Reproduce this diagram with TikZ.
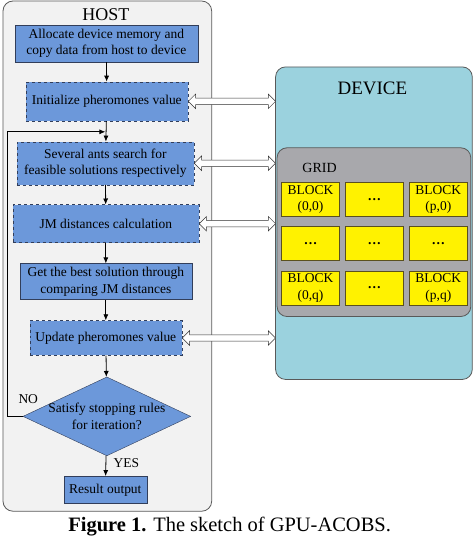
\documentclass[tikz,border=0pt]{standalone}
\usepackage{fontspec}
\setmainfont{Liberation Serif}
\usetikzlibrary{arrows.meta,shapes.geometric,shapes.arrows,positioning,calc}

\definecolor{hostfill}{RGB}{242,242,242}
\definecolor{stepblue}{RGB}{108,152,218}
\definecolor{stepline}{RGB}{50,62,90}
\definecolor{devfill}{RGB}{155,210,222}
\definecolor{gridfill}{RGB}{168,168,172}
\definecolor{blockline}{RGB}{90,80,30}

\begin{document}
\begin{tikzpicture}[
            x=1pt, y=-1pt,
            txt/.style={font=\fontsize{13.5}{16.5}\selectfont},
            stepbox/.style={txt, draw=stepline, fill=stepblue, align=center, inner sep=0pt},
            gpustep/.style={stepbox, dashed},
            decision/.style={diamond, draw=stepline, fill=stepblue, inner sep=0pt, minimum width=168, minimum height=79},
            panel/.style={draw=gray!70!black, rounded corners=10pt, line width=0.8pt, inner sep=0pt},
            blockbox/.style={txt, draw=blockline, fill=yellow, align=center, inner sep=0pt, minimum width=58, minimum height=34, line width=0.7pt},
            flow/.style={-{Latex[length=6pt,width=5pt]}, thick},
            transfer/.style={double arrow, draw=black!80, fill=white, line width=0.5pt, inner xsep=0pt, inner ysep=3pt, double arrow head extend=4pt, anchor=west},
        ]
            % host side
            \node[panel, fill=hostfill, minimum width=209, minimum height=511] (host) at (107.5,256.5) {};
            \node[font=\fontsize{18}{20}\selectfont] at (106,15) {HOST};

            \node[stepbox, minimum width=183, minimum height=37] (alloc) at (106.5,43.5) {Allocate device memory and\\copy data from host to device};
            \node[gpustep, minimum width=162, minimum height=39] (init) at (107,101.5) {Initialize pheromones value};
            \node[gpustep, minimum width=177, minimum height=43] (search) at (105.5,163.5) {Several ants search for\\feasible solutions respectively};
            \node[gpustep, minimum width=186, minimum height=38] (jm) at (106,224) {JM distances calculation};
            \node[stepbox, minimum width=172, minimum height=36] (best) at (106,282) {Get the best solution through\\comparing JM distances};
            \node[gpustep, minimum width=152, minimum height=35] (update) at (106,338.5) {Update pheromones value};
            \node[decision] (stop) at (107,417) {};
            \node[txt, align=center] at (stop) {Satisfy stopping rules\\for iteration?};
            \node[stepbox, minimum width=83, minimum height=27] (result) at (105.5,490.5) {Result output};

            \draw[flow] (alloc) -- (init);
            \draw[flow] (init) -- (search);
            \draw[flow] (search) -- (jm);
            \draw[flow] (jm) -- (best);
            \draw[flow] (best) -- (update);
            \draw[flow] (update) -- (stop);
            \draw[flow] (stop) -- node[txt, right=4pt, pos=0.35] {YES} (result);

            \coordinate (loopin) at (105.5,132);
            \draw[flow] (stop.west) -- ++(-15,0) node[txt, above right=9pt and 7pt] {NO} |- (loopin);

            % device side
            \node[panel, fill=devfill, minimum width=197, minimum height=313] (dev) at (374.5,223.5) {};
            \node[font=\fontsize{19}{22}\selectfont] at (373,88) {DEVICE};
            \node[panel, fill=gridfill, minimum width=194, minimum height=169] (grid) at (374.5,232.5) {};
            \node[font=\fontsize{14}{16}\selectfont] at (320,168) {GRID};

            \foreach \col/\row/\cx/\cy/\what in {0/0/311/200/{BLOCK\\(0,0)}, 1/0/375/200/\textbf{\dots}, 2/0/439/200/{BLOCK\\(p,0)},
                                                 0/1/311/244/\textbf{\dots}, 1/1/375/244/\textbf{\dots}, 2/1/439/244/\textbf{\dots},
                                                 0/2/311/288.5/{BLOCK\\(0,q)}, 1/2/375/288.5/\textbf{\dots}, 2/2/439/288.5/{BLOCK\\(p,q)}}
                \node[blockbox] (b\col\row) at (\cx,\cy) {\what};

            % host <-> device transfers
            \foreach \src in {init, search, jm, update}
                \path let \p1=(\src.east), \p2=(dev.west) in node[transfer, minimum height=\x2-\x1] at (\p1) {};

            \node[font=\fontsize{20.5}{22}\selectfont] (caption) at (230,527) {\textbf{Figure 1.} The sketch of GPU-ACOBS.};
            \useasboundingbox (0,0) rectangle (474,539);
        \end{tikzpicture}
\end{document}
